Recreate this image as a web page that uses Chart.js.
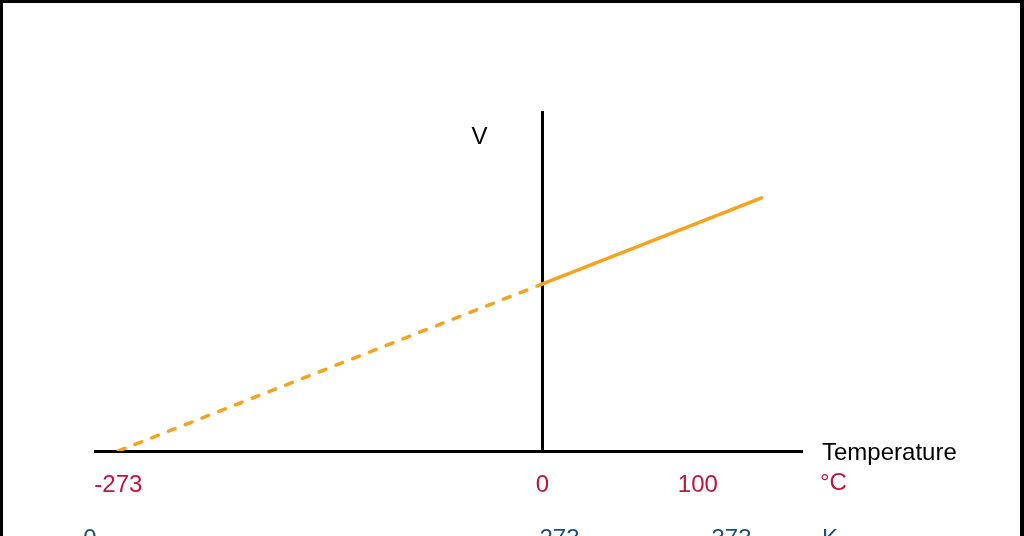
<!DOCTYPE html>
<html>
<head>
<meta charset="utf-8">
<script src="https://cdn.jsdelivr.net/npm/chart.js@4.4.1/dist/chart.umd.min.js"></script>
<style>
    html, body { margin: 0; padding: 0; background: #fff; overflow: hidden; }
    #wrap { position: relative; width: 1024px; height: 536px; }
    #chart { position: absolute; left: 0; top: 0; }
    #frame {
        position: absolute; left: 0; top: 0; width: 1024px; height: 540px;
        box-sizing: border-box; border-top: 3px solid #000; border-left: 3px solid #000;
        border-right: 4px solid #000; pointer-events: none;
    }
</style>
</head>
<body>
<div id="wrap">
    <canvas id="chart" width="1024" height="536"></canvas>
    <div id="frame"></div>
</div>
<script>
// temperature in °C and volume (arbitrary units)
const tempC = [-273, 0, 141];
const volume = [0, 49.3, 74.7];

const celsiusTicks = [-273, 0, 100];
const kelvinTicks = [0, 273, 373];

const xMin = -288, xMax = 167;
const kMin = 3, kMax = 414;  // kelvin row is drawn a bit looser in the picture
const orange = "#F4A21F";
const red = "#C0143C";
const blue = "#1F4E79";
const font = { family: "'Liberation Sans', Arial, sans-serif", size: 24 };

// axis names and units sit to the right of the axis / left of the V axis
const axisText = {
    id: "axisText",
    afterDraw(chart) {
        const ctx = chart.ctx;
        const x = chart.scales.x;
        const y = chart.scales.y;
        ctx.save();
        ctx.font = "24px 'Liberation Sans', Arial, sans-serif";
        ctx.textBaseline = "middle";
        ctx.textAlign = "left";
        ctx.fillStyle = "#000";
        ctx.fillText("Temperature", x.right + 20, y.bottom + 2);
        ctx.fillStyle = red;
        ctx.fillText("°C", x.right + 18, y.bottom + 32);
        ctx.fillStyle = blue;
        ctx.fillText("K", x.right + 20, y.bottom + 88);
        ctx.fillStyle = "#000";
        ctx.textAlign = "center";
        ctx.fillText("V", x.getPixelForValue(0) - 63, y.top + 25);
        ctx.restore();
    }
};

new Chart(document.getElementById("chart"), {
    type: "line",
    data: {
        datasets: [{
            data: tempC.map((t, i) => ({ x: t, y: volume[i] })),
            borderColor: orange,
            borderWidth: 3.5,
            borderCapStyle: "round",
            pointRadius: 0,
            tension: 0,
            segment: {
                borderDash: ctx => ctx.p0.parsed.x < 0 ? [7, 11] : undefined
            }
        }]
    },
    options: {
        responsive: false,
        animation: false,
        events: [],
        layout: { padding: { left: 95, right: 222, top: 112, bottom: 0 } },
        plugins: { legend: { display: false }, tooltip: { enabled: false } },
        scales: {
            x: {
                type: "linear",
                position: "bottom",
                min: xMin,
                max: xMax,
                afterBuildTicks: s => { s.ticks = celsiusTicks.map(v => ({ value: v })); },
                afterFit: s => { s.height = 45; },
                grid: { display: false },
                border: { display: true, color: "#000", width: 3 },
                ticks: { color: red, font: font, padding: 12, maxRotation: 0 }
            },
            xK: {
                type: "linear",
                position: "bottom",
                min: kMin,
                max: kMax,
                afterBuildTicks: s => { s.ticks = kelvinTicks.map(v => ({ value: v })); },
                afterFit: s => { s.height = 40; },
                grid: { display: false },
                border: { display: false },
                ticks: { color: blue, font: font, padding: 21, maxRotation: 0 }
            },
            y: {
                type: "linear",
                position: { x: 0 },
                min: 0,
                max: 100,
                grid: { display: false },
                border: { display: true, color: "#000", width: 3 },
                ticks: { display: false }
            }
        }
    },
    plugins: [axisText]
});
</script>
</body>
</html>
